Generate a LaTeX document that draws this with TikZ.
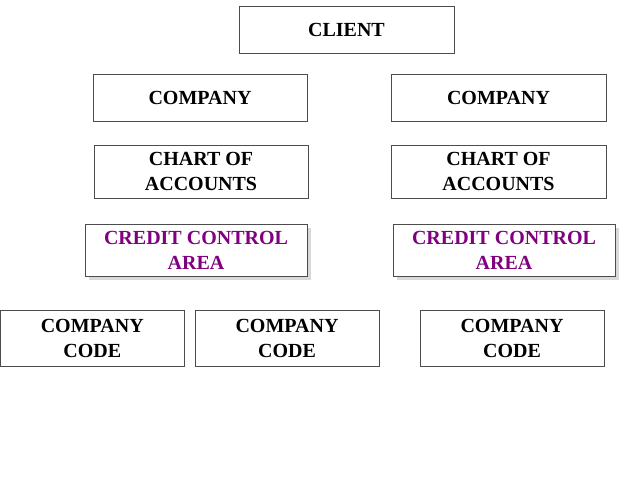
\documentclass[tikz,border=0pt]{standalone}
\usepackage{fontspec}
\setmainfont{Liberation Serif}
\definecolor{purp}{RGB}{128,0,128}
\begin{document}
\begin{tikzpicture}[x=1pt,y=-1pt,
 bx/.style={draw=black!70,line width=0.8pt,fill=white},
 lb/.style={font=\bfseries\fontsize{20}{25}\selectfont,align=center}]
\useasboundingbox (0,0) rectangle (638,478);
\newcommand\mybox[6]{%
 \draw[bx] (#1,#2) rectangle (#3,#4);
 \node[lb,#6] (#5) at ({(#1+#3)/2},{(#2+#4)/2}) {\csname txt#5\endcsname};}
\def\txtcl{CLIENT}
\def\txtcoa{COMPANY}\def\txtcob{COMPANY}
\def\txtcha{CHART OF\\ACCOUNTS}\def\txtchb{CHART OF\\ACCOUNTS}
\def\txtcca{CREDIT CONTROL\\AREA}\def\txtccb{CREDIT CONTROL\\AREA}
\def\txtcda{COMPANY\\CODE}\def\txtcdb{COMPANY\\CODE}\def\txtcdc{COMPANY\\CODE}
\fill[black!15] (89,228) rectangle (311,280);
\fill[black!15] (397,228) rectangle (619,280);
\mybox{239}{6}{454}{53}{cl}{}
\mybox{93}{74}{307}{121}{coa}{}
\mybox{391}{74}{606}{121}{cob}{}
\mybox{94}{145}{308}{198}{cha}{}
\mybox{391}{145}{606}{198}{chb}{}
\mybox{85}{224}{307}{276}{cca}{text=purp}
\mybox{393}{224}{615}{276}{ccb}{text=purp}
\mybox{0.5}{310}{184}{366}{cda}{}
\mybox{195}{310}{379}{366}{cdb}{}
\mybox{420}{310}{604}{366}{cdc}{}
\end{tikzpicture}
\end{document}
